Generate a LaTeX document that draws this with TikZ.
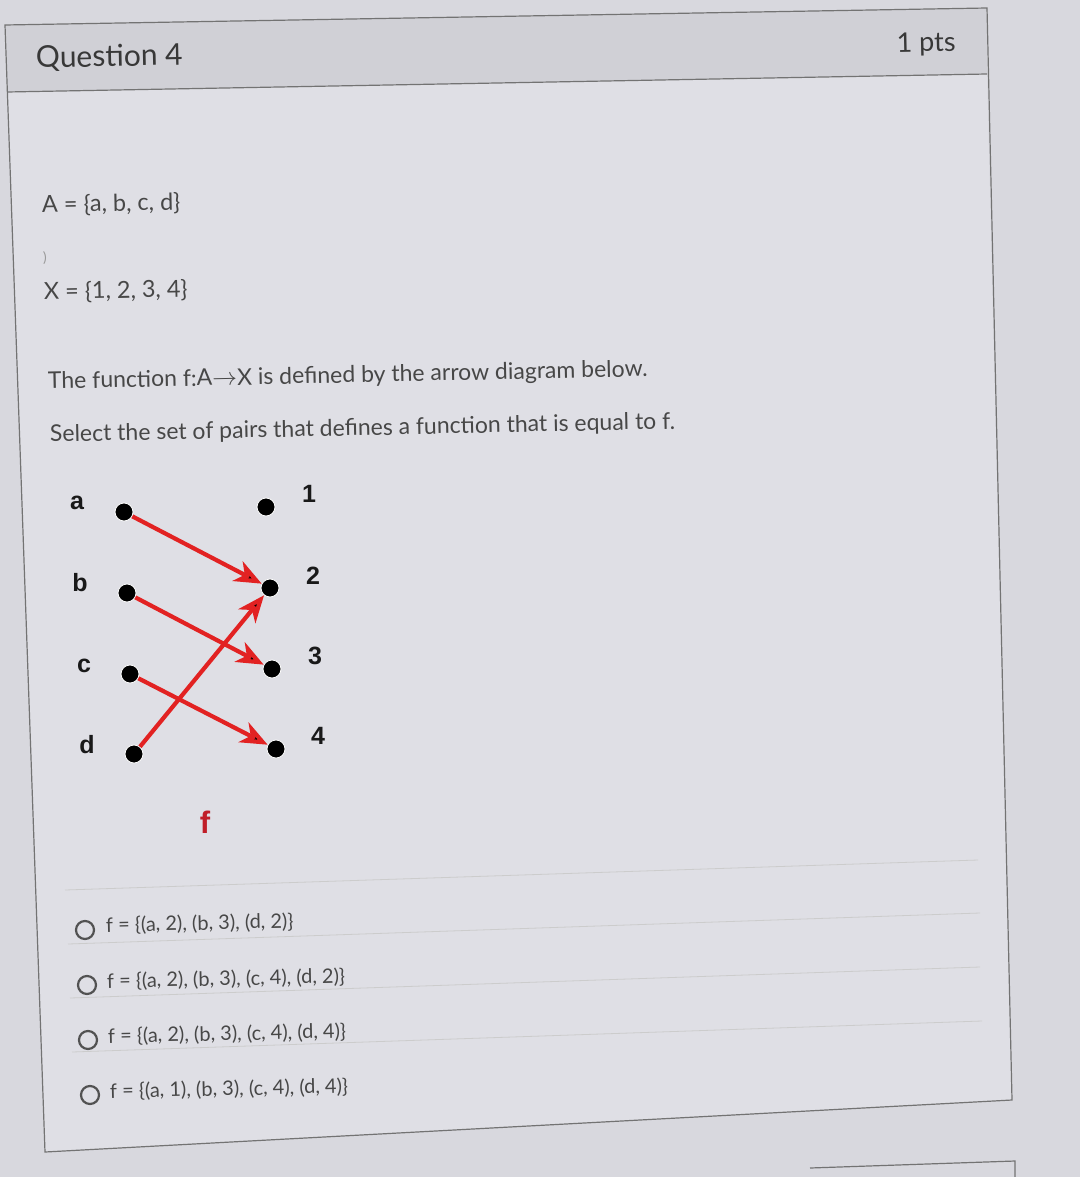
\documentclass[tikz,border=0pt]{standalone}
\usepackage{fontspec}
\setmainfont{Lato}
\newfontfamily\arialfont{Liberation Sans}
\usepackage{tikz}
\usetikzlibrary{arrows.meta}
\usetikzlibrary{positioning}

\definecolor{pagebg}{RGB}{216,216,222}
\definecolor{hdbg}{RGB}{208,208,214}
\definecolor{panelbg}{RGB}{223,223,229}
\definecolor{fred}{RGB}{226,34,34}
\definecolor{fdark}{RGB}{192,30,40}

\begin{document}
\begin{tikzpicture}[x=1pt,y=-1pt,on grid,
    txt/.style={anchor=base west,inner sep=0pt,text=black!72,rotate=1.2},
    dot/.style={circle,fill=black,draw=white,line width=0.8pt,inner sep=0pt,minimum size=18pt},
    lbl/.style={font=\arialfont\bfseries\fontsize{25}{25}\selectfont,inner sep=0pt,text=black!90},
    arr/.style={draw=fred,line width=4.2pt,-{Stealth[length=27pt,width=22pt,inset=8pt]}},
    rule/.style={draw=black!20,line width=0.8pt},
    frame/.style={draw=black!55,line width=1.2pt},
    opt/.style={circle,draw=black!68,line width=2.2pt,minimum size=18pt,inner sep=0pt}]

      \useasboundingbox (0,0) rectangle (1080,1177);
      \fill[pagebg] (0,0) rectangle (1080,1177);
      \fill[hdbg] (5,25) -- (987,8) -- (987,74) -- (7,92) -- cycle;
      \fill[panelbg] (7,92) -- (987,74) -- (1012,1100) -- (45,1152) -- cycle;
      \draw[frame] (5,25) -- (987,8) -- (1012,1100) -- (45,1152) -- cycle;
      \draw[frame] (7,92) -- (987,74);
      \draw[frame] (810,1168) -- (1015,1161) -- (1015,1177);

      % header
      \node[txt,font=\fontsize{30}{33}\selectfont,text=black!78] (qt) at (36,68) {Question 4};
      \node[txt,font=\fontsize{27}{30}\selectfont,text=black!78,anchor=base east] (pts) at (956,51) {1 pts};

      % question text
      \node[txt,font=\fontsize{23.5}{26}\selectfont] (setA) at (42,213) {A = \{a, b, c, d\}};
      \node[txt,font=\fontsize{14}{16}\selectfont,text=black!40] (par) at (43,263) {)};
      \node[txt,font=\fontsize{23.5}{26}\selectfont] (setX) at (44,300) {X = \{1, 2, 3, 4\}};
      \node[txt,font=\fontsize{23}{26}\selectfont] (def) at (48,389) {The function f:A$\rightarrow$X is defined by the arrow diagram below.};
      \node[txt,font=\fontsize{23}{26}\selectfont] (sel) at (50,442) {Select the set of pairs that defines a function that is equal to f.};

      % arrow diagram
      \node[dot] (pa) at (124,512) {};
      \node[dot] (pb) at (127,593) {};
      \node[dot] (pc) at (130,674) {};
      \node[dot] (pd) at (134,754) {};
      \node[dot] (p1) at (266,507) {};
      \node[dot] (p2) at (270,588) {};
      \node[dot] (p3) at (272,669) {};
      \node[dot] (p4) at (276,749) {};

      \node[lbl] (la) [above left=9pt and 47pt of pa] {a};
      \node[lbl] (lb) [above left=10pt and 47pt of pb] {b};
      \node[lbl] (lc) [above left=8pt and 46pt of pc] {c};
      \node[lbl] (ld) [above left=9pt and 47pt of pd] {d};
      \node[lbl] (l1) [above right=13pt and 43pt of p1] {1};
      \node[lbl] (l2) [above right=12pt and 43pt of p2] {2};
      \node[lbl] (l3) [above right=13pt and 43pt of p3] {3};
      \node[lbl] (l4) [above right=13pt and 42pt of p4] {4};
      \node[lbl,text=fdark,font=\arialfont\bfseries\fontsize{31}{31}\selectfont] (fn) at (205,822) {f};

       \path[arr]
          (pa) edge (p2)
          (pb) edge (p3)
          (pc) edge (p4)
          (pd) edge (p2)
      ;

      % answer choices
      \draw[rule] (65,890) -- (978,860);
      \draw[rule] (68,944) -- (980,913);
      \draw[rule] (70,998) -- (980,967);
      \draw[rule] (72,1052) -- (982,1021);

      \node[opt] (o1) at (85,930) {};
      \node[opt] (o2) at (87,985) {};
      \node[opt] (o3) at (88,1040) {};
      \node[opt] (o4) at (90,1095) {};
      \node[txt,font=\fontsize{20}{22}\selectfont] (t1) at (106,932) {f = \{(a, 2), (b, 3), (d, 2)\}};
      \node[txt,font=\fontsize{20}{22}\selectfont] (t2) at (107,988) {f = \{(a, 2), (b, 3), (c, 4), (d, 2)\}};
      \node[txt,font=\fontsize{20}{22}\selectfont] (t3) at (108,1043) {f = \{(a, 2), (b, 3), (c, 4), (d, 4)\}};
      \node[txt,font=\fontsize{20}{22}\selectfont] (t4) at (110,1098) {f = \{(a, 1), (b, 3), (c, 4), (d, 4)\}};
  \end{tikzpicture}
\end{document}
